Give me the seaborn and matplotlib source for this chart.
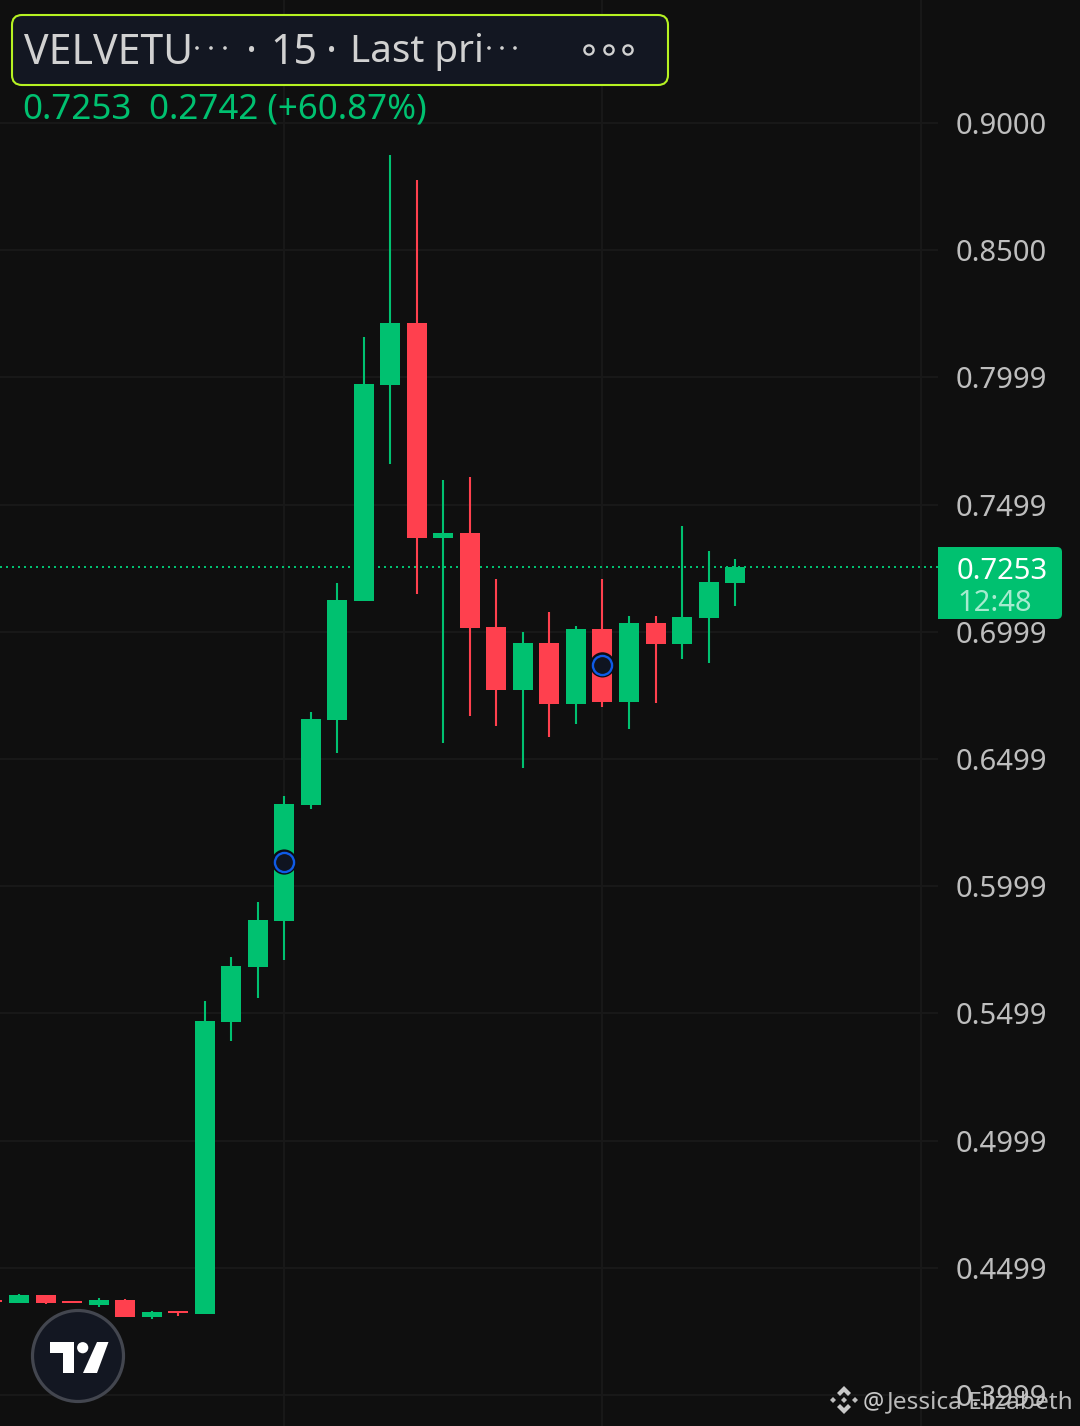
import matplotlib
matplotlib.use("Agg")
import matplotlib.pyplot as plt
from matplotlib.patches import FancyBboxPatch, Circle, Polygon
import pandas as pd
import seaborn as sns

# ---- data ----
opens = [.4373, .4362, .4393, .4370, .4354, .4373, .4307, .4330, .4318, .5466, .5682, .5863, .6319, .6653, .7121,
         .7970, .8214, .7369, .7388, .7019, .6771, .6956, .6716, .7011, .6724, .7035, .6952, .7054, .7192]
highs = [.4373, .4397, .4393, .4370, .4381, .4377, .4330, .4330, .5549, .5722, .5938, .6355, .6685, .7192, .8159,
         .8874, .8776, .7597, .7608, .7208, .7000, .7078, .7023, .7208, .7062, .7062, .7416, .7318, .7286]
lows = [.4366, .4362, .4358, .4362, .4346, .4307, .4299, .4311, .4318, .5392, .5560, .5710, .6303, .6524, .7121,
        .7660, .7149, .6563, .6669, .6630, .6465, .6587, .6638, .6704, .6618, .6720, .6893, .6877, .7101]
closes = [.4366, .4393, .4362, .4362, .4373, .4307, .4326, .4322, .5470, .5686, .5867, .6323, .6657, .7125, .7974,
          .8214, .7369, .7388, .7015, .6771, .6956, .6716, .7011, .6724, .7035, .6952, .7058, .7196, .7253]
tick_values = [.90, .85, .80, .75, .70, .65, .60, .55, .50, .45, .40]
tick_labels = ["0.9000", "0.8500", "0.7999", "0.7499", "0.6999", "0.6499",
               "0.5999", "0.5499", "0.4999", "0.4499", "0.3999"]
marker_index = [11, 23]
marker_price = [.6095, .6870]
last_price = .7253
grid_index = [11, 23, 35]

BG = "#0F0F0F"
GREEN = "#00C170"
RED = "#FF404E"
GRID = "#181818"
TXT = "#BEBEBE"
FONT = ["Noto Sans", "DejaVu Sans"]

sns.set_theme(style="dark", rc={"figure.facecolor": BG, "axes.facecolor": BG})
plt.rcParams["font.family"] = FONT

n = len(opens)
df = pd.DataFrame({"i": range(n), "o": opens, "h": highs, "l": lows, "c": closes})
df["dir"] = ["up" if c >= o else "down" for o, c in zip(opens, closes)]
wicks = df.melt(id_vars=["i", "dir"], value_vars=["h", "l"], value_name="price")
palette = {"up": GREEN, "down": RED}

fig = plt.figure(figsize=(10.8, 14.26), dpi=100, facecolor=BG)
ax = fig.add_axes([0, 0, 938 / 1080, 1])
ax.set_facecolor(BG)

ax.set_xticks(grid_index)
ax.set_yticks(tick_values)
ax.set_yticklabels(tick_labels)
ax.grid(True, color=GRID, lw=1.44, zorder=0)
ax.set_axisbelow(True)

ax.axhline(last_price, color=GREEN, lw=1.44, ls=(0, (1, 2)), zorder=1.5)

sns.lineplot(data=wicks, x="i", y="price", units="i", estimator=None, hue="dir", palette=palette,
             legend=False, ax=ax, solid_capstyle="butt", errorbar=None, lw=1.5, zorder=2)
ax.bar(df["i"], (df["c"] - df["o"]).abs(), bottom=df[["o", "c"]].min(axis=1), width=0.754,
       color=df["dir"].map(palette), linewidth=0, zorder=3)

sns.scatterplot(x=marker_index, y=marker_price, s=330, color="#0A0D14", edgecolor="none", ax=ax, zorder=4, legend=False)
sns.scatterplot(x=marker_index, y=marker_price, s=190, color="#0F1420", edgecolor="#0F5BE6", linewidth=1.7,
                ax=ax, zorder=5, legend=False)

ax.set_xlim(0.2836, 35.65)
ax.set_ylim(0.38781, 0.94835)
ax.set_xlabel("")
ax.set_ylabel("")
ax.tick_params(axis="x", length=0, labelbottom=False)
ax.yaxis.tick_right()
ax.tick_params(axis="y", length=0, pad=12.8, labelsize=21, labelcolor=TXT)
for s in ax.spines.values():
    s.set_visible(False)

# overlay in pixel coordinates for the app's chrome
ov = fig.add_axes([0, 0, 1, 1], facecolor="none", zorder=10)
ov.set_xlim(0, 1080)
ov.set_ylim(1426, 0)
ov.axis("off")

# header pill
ov.add_patch(FancyBboxPatch((12, 15), 656, 70, boxstyle="round,pad=0,rounding_size=10",
                            fc="#131722", ec="#B6F222", lw=1.5))
HDR = "#D1D1D1"
ov.text(24, 47.5, "VELVETU", color=HDR, fontsize=29.5, va="center_baseline")
ov.text(252, 47.5, "·", color=HDR, fontsize=29.5, va="center_baseline", ha="center")
ov.text(270, 47.5, "15", color=HDR, fontsize=29.5, va="center_baseline")
ov.text(332, 47.5, "·", color=HDR, fontsize=29.5, va="center_baseline", ha="center")
ov.text(350, 47.5, "Last pri", color=HDR, fontsize=27.8, va="center_baseline")
for x0 in (197, 211, 225, 489, 502, 515):
    ov.add_patch(Circle((x0, 48), 1.8, fc=HDR, ec="none"))
for x0 in (589, 609, 628):
    ov.add_patch(Circle((x0, 50), 4.6, fc="none", ec=HDR, lw=1.7))

# OHLC change line
ov.text(22, 106, "0.7253", color=GREEN, fontsize=25.1, va="center_baseline")
ov.text(149, 106, "0.2742 (+60.87%)", color=GREEN, fontsize=25.1, va="center_baseline")

# last price tag
ov.add_patch(FancyBboxPatch((938, 547), 124, 72, boxstyle="round,pad=0,rounding_size=5", fc=GREEN, ec="none"))
ov.add_patch(plt.Rectangle((938, 547), 10, 72, fc=GREEN, ec="none"))
ov.text(957, 568, "0.7253", color="white", fontsize=21, va="center_baseline")
ov.text(957, 600, "12:48", color="#A6EBCF", fontsize=21, va="center_baseline")

# TradingView badge
ov.add_patch(Circle((78, 1356), 45.5, fc="#131722", ec="#43464F", lw=2.3))
ov.add_patch(Polygon([(50, 1342), (74, 1342), (74, 1373), (63, 1373), (63, 1353), (50, 1353)], fc="white", ec="none"))
ov.add_patch(Circle((82.7, 1347.7), 5.6, fc="white", ec="none"))
ov.add_patch(Polygon([(97, 1342), (108.5, 1342), (97, 1373), (83, 1373)], fc="white", ec="none"))

# watermark
WM = "#C9C9C9"
cx, cy = 844, 1400
def dia(x, y, r):
    ov.add_patch(Polygon([(x, y - r), (x + r, y), (x, y + r), (x - r, y)], fc=WM, ec="none", alpha=.95))
ov.add_patch(Polygon([(cx, cy - 14), (cx + 7, cy - 7), (cx + 4, cy - 4), (cx, cy - 8), (cx - 4, cy - 4), (cx - 7, cy - 7)], fc=WM, ec="none"))
ov.add_patch(Polygon([(cx, cy + 14), (cx + 7, cy + 7), (cx + 4, cy + 4), (cx, cy + 8), (cx - 4, cy + 4), (cx - 7, cy + 7)], fc=WM, ec="none"))
dia(cx - 11, cy, 3)
dia(cx + 11, cy, 3)
dia(cx, cy, 3)
ov.text(863, 1399, "@", color=WM, fontsize=17, va="center_baseline")
ov.text(887, 1399, "Jessica Elizabeth", color=WM, fontsize=17.6, va="center_baseline", alpha=.92)

fig.savefig("out.png", dpi=100, facecolor=BG)
